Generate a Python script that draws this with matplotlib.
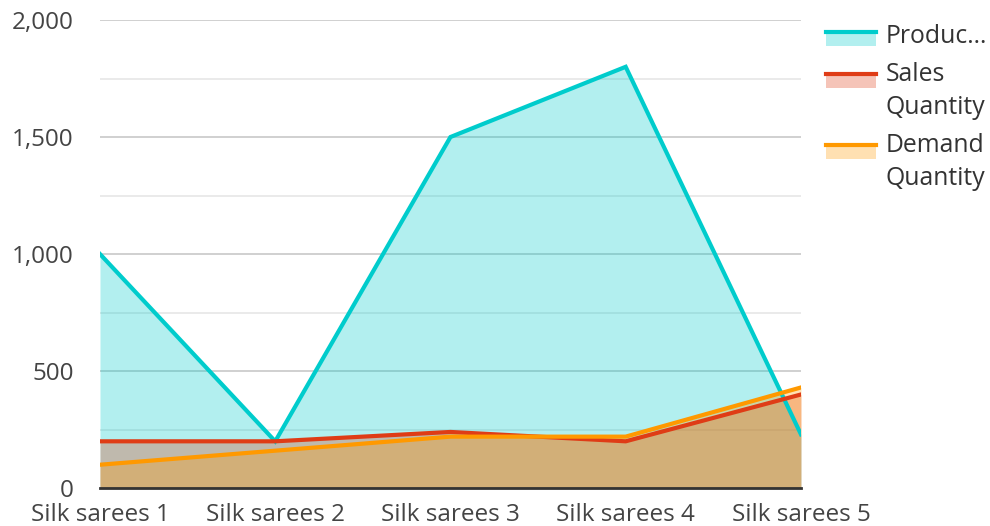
import matplotlib.pyplot as plt
from matplotlib.patches import Rectangle
from matplotlib.lines import Line2D
from matplotlib.legend_handler import HandlerBase
from matplotlib.ticker import MultipleLocator, FuncFormatter

plt.rcParams['font.family'] = ['Open Sans', 'DejaVu Sans']

categories = ['Silk sarees 1', 'Silk sarees 2', 'Silk sarees 3', 'Silk sarees 4', 'Silk sarees 5']
production = [1000, 200, 1500, 1800, 230]
sales = [200, 200, 240, 200, 400]
demand = [100, 160, 220, 220, 430]

labels = ['Produc\u2026', 'Sales\nQuantity', 'Demand\nQuantity']
colors = ['#00CCCC', '#DF3C16', '#FF9900']


class AreaHandler(HandlerBase):
    # light patch with the line along its top edge, lifted to the first text line
    def __init__(self, color, shift):
        super().__init__()
        self.color = color
        self.shift = shift

    def create_artists(self, legend, orig_handle, xdescent, ydescent, width,
                       height, fontsize, trans):
        h = 10
        y0 = -ydescent + (height - h) / 2 + self.shift - 0.18 * fontsize
        rect = Rectangle((-xdescent, y0), width, h, facecolor=self.color,
                         alpha=0.3, linewidth=0, transform=trans)
        line = Line2D([-xdescent, -xdescent + width], [y0 + h, y0 + h],
                      color=self.color, linewidth=3, transform=trans)
        return [rect, line]


fig = plt.figure(figsize=(9.9, 5.26), dpi=100)
ax = fig.add_axes([0.101, 0.072, 0.708, 0.89])

x = range(len(categories))
handles = []
for vals, c, lab in zip([production, sales, demand], colors, labels):
    ax.fill_between(x, vals, 0, color=c, alpha=0.3, linewidth=0)
    ax.plot(x, vals, color=c, linewidth=3, solid_joinstyle='miter')
    handles.append(Line2D([], [], color=c))

ax.set_xlim(0, 4)
ax.set_ylim(0, 2000)
ax.yaxis.set_major_locator(MultipleLocator(500))
ax.yaxis.set_minor_locator(MultipleLocator(250))
ax.yaxis.set_major_formatter(FuncFormatter(lambda v, p: f'{int(v):,}'))
ax.grid(axis='y', which='major', color='#c8c8c8', linewidth=1.2)
ax.grid(axis='y', which='minor', color='#e6e6e6', linewidth=1.2)
ax.set_axisbelow(True)
for s in ['top', 'right', 'left']:
    ax.spines[s].set_visible(False)
ax.spines['bottom'].set_color('#333333')
ax.spines['bottom'].set_linewidth(2)
ax.tick_params(axis='both', which='both', length=0, labelsize=17.5, labelcolor='#444444')
ax.tick_params(axis='y', pad=19)
ax.tick_params(axis='x', pad=10.5)
ax.set_xticks(list(x))
ax.set_xticklabels(categories)

fs = 17.8
ls = 1.46
pitch = 22.7  # points between the two lines of a label
hmap = {}
for hd, c, lab in zip(handles, colors, labels):
    nl = lab.count('\n')
    hmap[hd] = AreaHandler(c, nl * 0.5 * pitch)

leg = fig.legend(handles, labels, loc='upper left', bbox_to_anchor=(0.834, 0.955),
                 frameon=False, fontsize=fs, handlelength=2.02, handleheight=1.0,
                 labelcolor='#333333', labelspacing=0.5, handletextpad=0.4,
                 borderpad=0, borderaxespad=0, handler_map=hmap)
for t in leg.get_texts():
    t.set_linespacing(ls)

fig.savefig('out.png', dpi=100)
